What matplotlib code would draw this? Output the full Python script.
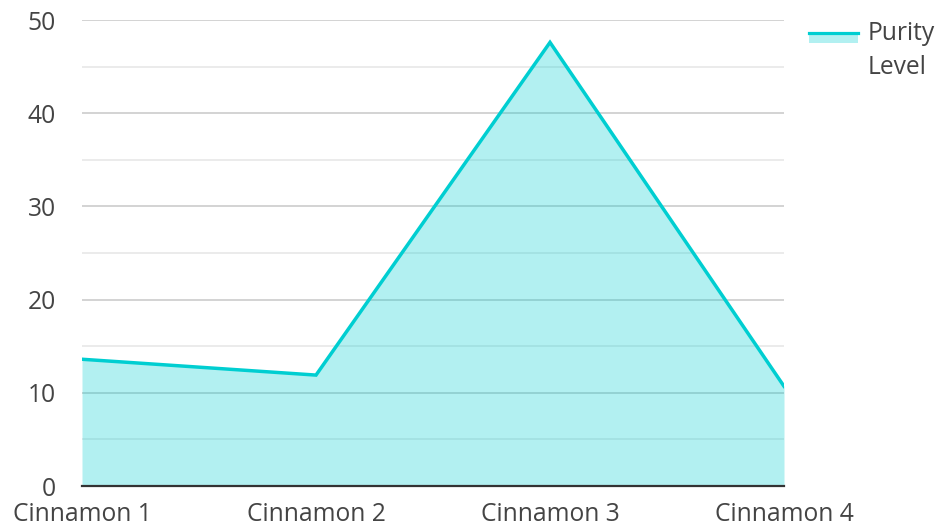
import matplotlib
matplotlib.use("Agg")
import numpy as np
from matplotlib import pyplot as plt
from matplotlib.patches import Rectangle
from matplotlib.lines import Line2D

# Chart data
categories = ["Cinnamon 1", "Cinnamon 2", "Cinnamon 3", "Cinnamon 4"]
purity = [13.6, 11.9, 47.6, 10.7]
series_name = "Purity\nLevel"

LINE = "#00CED1"
FILL = (0.0, 0.808, 0.82, 0.3)
FS = 17.7

plt.rcParams["font.family"] = ["Open Sans", "DejaVu Sans"]


class AreaHandler:
    # Legend key: filled box with the line on its top edge, next to the first text line
    def legend_artist(self, legend, orig_handle, fontsize, handlebox):
        x0, y0 = handlebox.xdescent, handlebox.ydescent
        w = handlebox.width
        tr = handlebox.get_transform()
        top = y0 + 19.5  # points, moves the key up to the first line
        box = Rectangle((x0, top - 7.5), w, 7.5, facecolor=FILL, edgecolor="none", transform=tr)
        line = Line2D([x0, x0 + w], [top, top], color=LINE, lw=2.3, transform=tr)
        handlebox.add_artist(box)
        handlebox.add_artist(line)
        return box


fig = plt.figure(figsize=(9.39, 5.28), dpi=100)
ax = fig.add_axes([82 / 939, 1 - 486 / 528, (784 - 82) / 939, (486 - 20) / 528])

x = np.arange(len(categories))
ax.fill_between(x, purity, 0, color=FILL, linewidth=0, zorder=2)
ax.plot(x, purity, color=LINE, lw=2.5, zorder=3, solid_joinstyle="miter")

# Axes
ax.set_xlim(0, len(categories) - 1)
ax.set_ylim(0, 50)
ax.set_xticks(x)
ax.set_xticklabels(categories)
ax.set_yticks(range(0, 51, 10))
ax.set_yticks(range(5, 50, 10), minor=True)
ax.tick_params(axis="both", which="both", length=0, labelsize=FS, labelcolor="#444444")
ax.tick_params(axis="x", pad=11.5)
ax.tick_params(axis="y", pad=19)

ax.grid(axis="y", which="major", color="#c8c8c8", lw=1.1, zorder=1)
ax.grid(axis="y", which="minor", color="#e6e6e6", lw=1.1, zorder=1)
ax.set_axisbelow(True)

for side in ["top", "right", "left"]:
    ax.spines[side].set_visible(False)
ax.spines["bottom"].set_color("#333333")
ax.spines["bottom"].set_linewidth(1.6)
ax.spines["bottom"].set_zorder(4)

# Legend
leg = fig.legend(
    [Rectangle((0, 0), 1, 1)], [series_name],
    handler_map={Rectangle: AreaHandler()},
    loc="upper left", bbox_to_anchor=(809 / 939, 1 - 21 / 528),
    frameon=False, fontsize=FS, handlelength=2.0, handletextpad=0.4,
    borderpad=0, borderaxespad=0, labelcolor="#444444",
)
for t in leg.get_texts():
    t.set_linespacing(1.45)

plt.savefig("out.png", dpi=100)
plt.close()
